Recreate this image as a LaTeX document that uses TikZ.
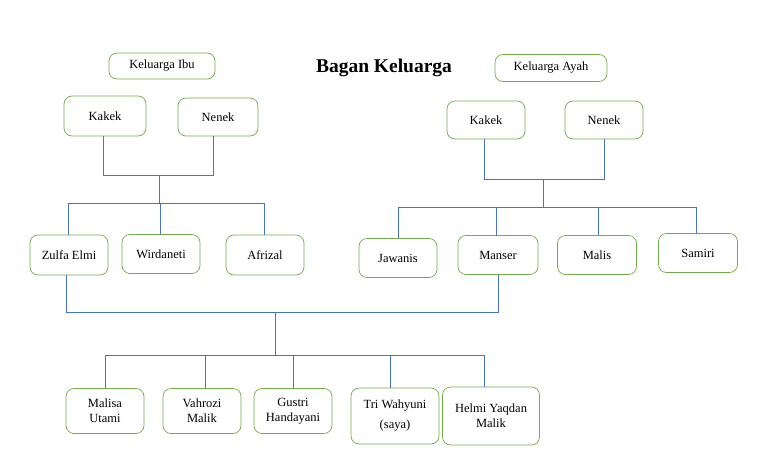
\documentclass[tikz,border=0pt]{standalone}
\usepackage{fontspec}
\setmainfont{Liberation Serif}
\definecolor{bgreen}{RGB}{112,173,71}
\definecolor{lblue}{RGB}{68,114,196}
\begin{document}
\begin{tikzpicture}[x=1pt,y=-1pt,
 box/.style={draw=bgreen, line width=0.7pt, rounded corners=8pt, fill=white, align=center, font=\fontsize{12.5}{15}\selectfont, inner sep=0pt},
 ln/.style={draw=lblue, line width=0.9pt}]
\useasboundingbox (0,0) rectangle (768,466);
\node[box,minimum width=106,minimum height=26] (ki) at (162,66) {Keluarga Ibu};
\node[font=\bfseries\fontsize{19.5}{22}\selectfont] (t) at (384,68) {Bagan Keluarga};
\node[box,minimum width=112,minimum height=27] (ka) at (551,68) {Keluarga Ayah};
\node[box,minimum width=82,minimum height=40] (k1) at (105,116) {Kakek};
\node[box,minimum width=80,minimum height=38] (n1) at (218,117) {Nenek};
\node[box,minimum width=78,minimum height=38] (k2) at (486,120) {Kakek};
\node[box,minimum width=78,minimum height=38] (n2) at (604,120) {Nenek};
\node[box,minimum width=78,minimum height=40] (c1) at (69,255) {Zulfa Elmi};
\node[box,minimum width=78,minimum height=39] (c2) at (161,254) {Wirdaneti};
\node[box,minimum width=78,minimum height=40] (c3) at (265,255) {Afrizal};
\node[box,minimum width=78,minimum height=39] (d1) at (398,258) {Jawanis};
\node[box,minimum width=80,minimum height=39] (d2) at (498,255) {Manser};
\node[box,minimum width=79,minimum height=39] (d3) at (597,255) {Malis};
\node[box,minimum width=79,minimum height=39] (d4) at (698,253) {Samiri};
\node[box,minimum width=78,minimum height=45] (g1) at (105,411) {Malisa\\Utami};
\node[box,minimum width=78,minimum height=45] (g2) at (202,411) {Vahrozi\\Malik};
\node[box,minimum width=78,minimum height=45] (g3) at (293,411) {Gustri\\Handayani};
\node[box,minimum width=88,minimum height=56] (g4) at (395,416) {Tri Wahyuni\\[5pt](saya)};
\node[box,minimum width=97,minimum height=58] (g5) at (491,416) {Helmi Yaqdan\\Malik};
% left family
\draw[ln] (k1.south -| 103,0) -- (103,175) -- (213,175) -- (n1.south -| 213,0);
\draw[ln] (159,175) -- (159,203);
\draw[ln] (c1.north -| 68,0) -- (68,203) -- (264,203) -- (c3.north -| 264,0);
\draw[ln] (160,203) -- (c2.north -| 160,0);
% right family
\draw[ln] (k2.south -| 484,0) -- (484,179) -- (604,179) -- (n2.south);
\draw[ln] (543,179) -- (543,207);
\draw[ln] (d1.north) -- (398,207) -- (696,207) -- (d4.north -| 696,0);
\draw[ln] (496,207) -- (d2.north -| 496,0);
\draw[ln] (598,207) -- (d3.north -| 598,0);
% children
\draw[ln] (c1.south -| 66,0) -- (66,312) -- (498,312) -- (d2.south);
\draw[ln] (275,312) -- (275,355);
\draw[ln] (g1.north) -- (105,355) -- (484,355) -- (g5.north -| 484,0);
\draw[ln] (205,355) -- (g2.north -| 205,0);
\draw[ln] (293,355) -- (g3.north);
\draw[ln] (390,355) -- (g4.north -| 390,0);
\end{tikzpicture}
\end{document}
